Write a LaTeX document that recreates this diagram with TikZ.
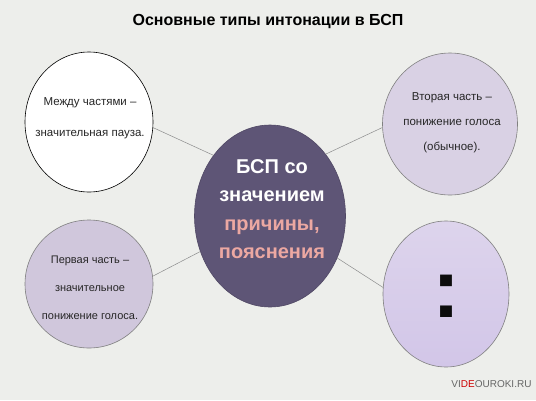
\documentclass[tikz,border=0pt]{standalone}
\usepackage{fontspec}
\setmainfont{Liberation Sans}
\usetikzlibrary{shapes.geometric}
\definecolor{bg}{RGB}{237,238,235}
\definecolor{lilac}{RGB}{208,199,220}
\definecolor{lilaclight}{RGB}{217,209,228}
\definecolor{lilactop}{RGB}{221,212,236}
\definecolor{lilacbot}{RGB}{210,198,232}
\definecolor{slate}{RGB}{94,85,118}
\definecolor{pinkred}{RGB}{236,168,162}

\begin{document}
\begin{tikzpicture}[x=1pt, y=-1pt, main/.style={draw=gray, ellipse, inner sep=0pt, line width=0.6pt}, info/.style={align=center, text=black!85}, n/.style={line width=0.5pt, draw=gray!90}]
            \fill[bg] (0,0) rectangle (536,400);
            \useasboundingbox (0,0) rectangle (536,400);
            % title
            \node[font=\bfseries\fontsize{16}{18}\selectfont] (title) at (268,22) {Основные типы интонации в БСП};
            % nodes
            \node[main, fill=white, draw=black, minimum width=128pt, minimum height=140pt] (pause) at (89,122) {};
            \node[info, font=\fontsize{11.5}{31}\selectfont] (pausetext) at (90,118) {Между частями –\\значительная пауза.};
            \node[main, fill=lilac, minimum width=128pt, minimum height=128pt] (first) at (89,284) {};
            \node[info, font=\fontsize{11}{28}\selectfont] (firsttext) at (90,288) {Первая часть –\\значительное\\понижение голоса.};
            \node[main, fill=lilaclight, minimum width=135pt, minimum height=142pt] (second) at (450,124) {};
            \node[info, font=\fontsize{11.5}{25}\selectfont] (secondtext) at (452,123) {Вторая часть –\\понижение голоса\\(обычное).};
            \node[main, top color=lilactop, bottom color=lilacbot, minimum width=126pt, minimum height=146pt] (colon) at (446,294) {};
            \node[font=\bfseries\fontsize{84}{86}\selectfont, text=black!95] (colontext) at (446,296) {:};
            \node[main, fill=slate, draw=slate!85!black, minimum width=151pt, minimum height=182pt] (bsp) at (270,216) {};
            \node[align=center, text=white, font=\bfseries\fontsize{20}{28.5}\selectfont] (bsptext) at (272,209) {БСП со\\значением\\\textcolor{pinkred}{причины,}\\\textcolor{pinkred}{пояснения}};
            % watermark
            \node[anchor=east, text=black!60, font=\fontsize{10}{12}\selectfont] (mark) at (535,384) {VI\textcolor{red!80!black}{DE}OUROKI.RU};
            % edges
            \draw [n] (pause.-5) -- (bsp.133);
            \draw [n] (first.7) -- (bsp.207);
            \draw [n] (bsp.48) -- (second.183);
            \draw [n] (bsp.-32) -- (colon.174);
        \end{tikzpicture}
\end{document}
